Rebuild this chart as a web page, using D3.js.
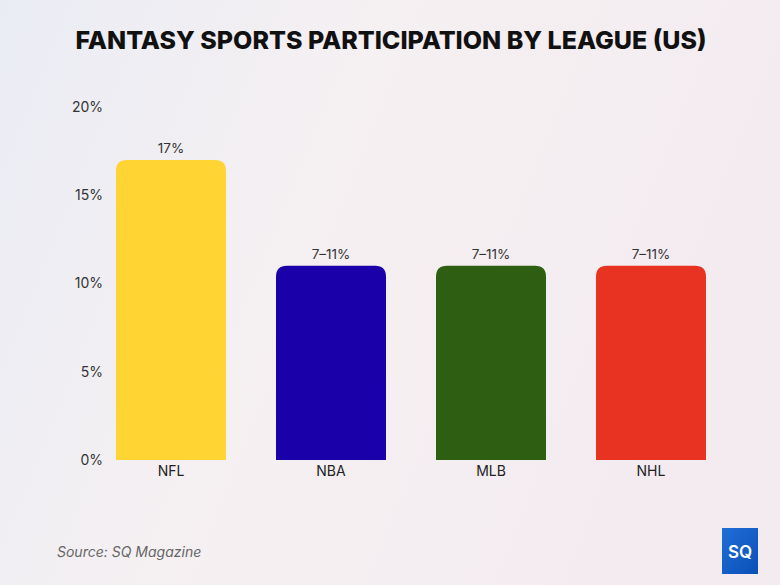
<!DOCTYPE html>
<html>
<head>
<meta charset="utf-8">
<script src="https://cdn.jsdelivr.net/npm/d3@7"></script>
<style>
  body { margin: 0; padding: 0; overflow: hidden; }
  svg { display: block; }
</style>
</head>
<body>
<div id="chart"></div>
<script>
// chart data
var leagues = ["NFL", "NBA", "MLB", "NHL"];
var values = [17, 11, 11, 11];
var valueLabels = ["17%", "7\u201311%", "7\u201311%", "7\u201311%"];
var barColors = ["#FFD433", "#1A00A8", "#2E5E12", "#E83222"];
var yTicks = [0, 5, 10, 15, 20];

var width = 780, height = 585;

var svg = d3.select("#chart").append("svg")
  .attr("width", width)
  .attr("height", height);

// soft background gradient
var defs = svg.append("defs");
var grad = defs.append("linearGradient")
  .attr("id", "bg")
  .attr("x1", "0%").attr("y1", "0%")
  .attr("x2", "100%").attr("y2", "30%");
grad.append("stop").attr("offset", "0%").attr("stop-color", "#eaecf4");
grad.append("stop").attr("offset", "45%").attr("stop-color", "#f5f0f2");
grad.append("stop").attr("offset", "100%").attr("stop-color", "#f3ebf0");

svg.append("rect")
  .attr("width", width)
  .attr("height", height)
  .attr("fill", "url(#bg)");

var logoGrad = defs.append("linearGradient")
  .attr("id", "logo")
  .attr("x1", "0%").attr("y1", "0%")
  .attr("x2", "100%").attr("y2", "100%");
logoGrad.append("stop").attr("offset", "0%").attr("stop-color", "#1f6fd6");
logoGrad.append("stop").attr("offset", "100%").attr("stop-color", "#0b4fb8");

// title
svg.append("text")
  .attr("x", 391)
  .attr("y", 49)
  .attr("text-anchor", "middle")
  .style("font-family", "Inter, 'Noto Sans', sans-serif")
  .style("font-weight", 800)
  .style("font-size", "25px")
  .style("fill", "#111")
  .text("FANTASY SPORTS PARTICIPATION BY LEAGUE (US)");

// scales
var x = d3.scaleBand()
  .domain(leagues)
  .range([91, 731])
  .paddingInner(0.3125)
  .paddingOuter(0.15625);

var y = d3.scaleLinear()
  .domain([0, 20])
  .range([460, 107]);

// y tick labels
var yAxis = svg.append("g")
  .attr("transform", "translate(103,0)")
  .call(d3.axisLeft(y).tickValues(yTicks).tickSize(0).tickPadding(0)
    .tickFormat(function (d) { return d + "%"; }));
yAxis.select(".domain").remove();
yAxis.selectAll("text")
  .style("font-family", "Inter, 'Noto Sans', sans-serif")
  .style("font-size", "14px")
  .style("fill", "#333");

// bars with rounded top corners
var r = 11;
function barPath(d, i) {
  var x0 = x(leagues[i]), w = x.bandwidth();
  var y0 = y(d), y1 = y(0);
  return "M" + x0 + "," + y1 +
    "V" + (y0 + r) +
    "Q" + x0 + "," + y0 + " " + (x0 + r) + "," + y0 +
    "H" + (x0 + w - r) +
    "Q" + (x0 + w) + "," + y0 + " " + (x0 + w) + "," + (y0 + r) +
    "V" + y1 + "Z";
}

svg.selectAll(".bar")
  .data(values)
  .enter()
  .append("path")
  .attr("class", "bar")
  .attr("d", barPath)
  .attr("fill", function (d, i) { return barColors[i]; });

// value labels
svg.selectAll(".val")
  .data(values)
  .enter()
  .append("text")
  .attr("class", "val")
  .attr("x", function (d, i) { return x(leagues[i]) + x.bandwidth() / 2; })
  .attr("y", function (d) { return y(d) - 7; })
  .attr("text-anchor", "middle")
  .style("font-family", "Inter, 'Noto Sans', sans-serif")
  .style("font-size", "13.5px")
  .style("fill", "#333")
  .text(function (d, i) { return valueLabels[i]; });

// category labels
var xAxis = svg.append("g")
  .attr("transform", "translate(0,460)")
  .call(d3.axisBottom(x).tickSize(0).tickPadding(6));
xAxis.select(".domain").remove();
xAxis.selectAll("text")
  .style("font-family", "Inter, 'Noto Sans', sans-serif")
  .style("font-size", "14px")
  .style("fill", "#222");

// source note
svg.append("text")
  .attr("x", 57)
  .attr("y", 557)
  .style("font-family", "Inter, 'Noto Sans', sans-serif")
  .style("font-style", "italic")
  .style("font-size", "14px")
  .style("fill", "#666")
  .text("Source: SQ Magazine");

// logo
svg.append("rect")
  .attr("x", 722)
  .attr("y", 528)
  .attr("width", 36)
  .attr("height", 46)
  .attr("fill", "url(#logo)");
svg.append("text")
  .attr("x", 740)
  .attr("y", 558)
  .attr("text-anchor", "middle")
  .style("font-family", "Inter, 'Noto Sans', sans-serif")
  .style("font-weight", 600)
  .style("font-size", "17px")
  .style("fill", "#fff")
  .text("SQ");
</script>
</body>
</html>
